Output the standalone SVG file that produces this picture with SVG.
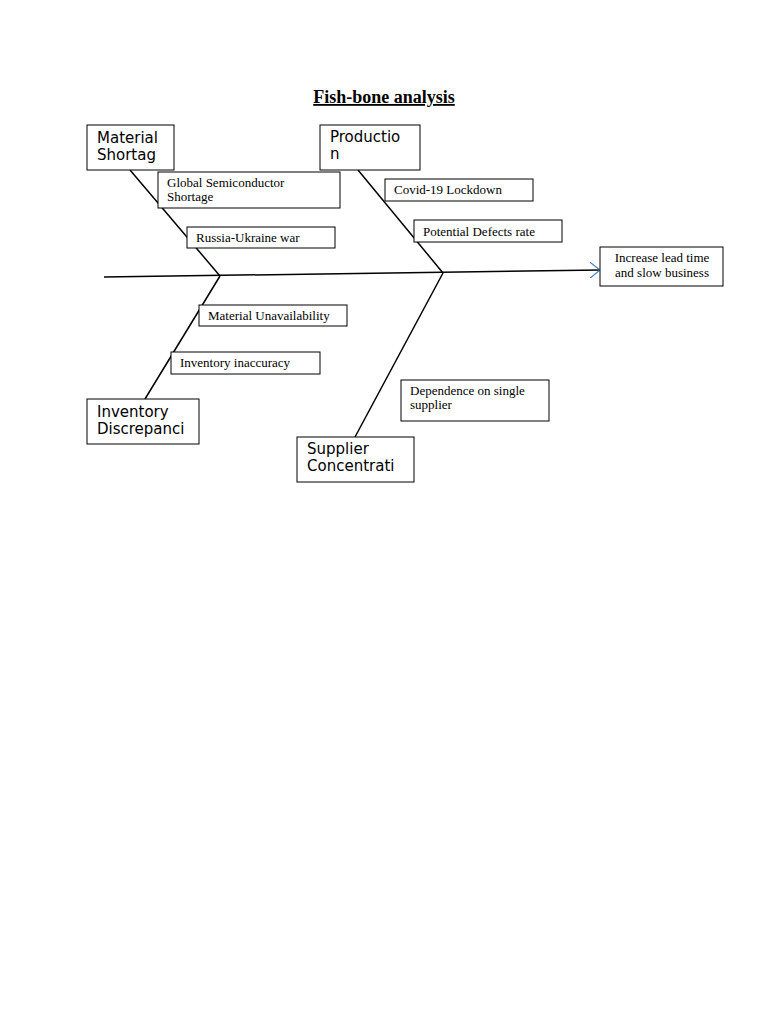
<svg xmlns="http://www.w3.org/2000/svg" width="768" height="1024" viewBox="0 0 768 1024">
<style>
.box{fill:#fff;stroke:#000;stroke-width:1}
.cat{font-family:"DejaVu Sans",sans-serif;font-size:15px;fill:#000}
.cause{font-family:"Liberation Serif",serif;font-size:13px;fill:#000}
.bone{stroke:#000;stroke-width:1.5;fill:none}
</style>
<defs>
<marker id="arr" viewBox="0 0 10 16" refX="10" refY="8" markerWidth="10" markerHeight="16" markerUnits="userSpaceOnUse" orient="auto">
<path d="M0,0 L10,8 L0,16" fill="none" stroke="#4a7ebb" stroke-width="1.2"/>
</marker>
</defs>
<rect width="768" height="1024" fill="#fff"/>
<text x="384" y="103" text-anchor="middle" font-family="Liberation Serif,serif" font-size="18" font-weight="bold" text-decoration="underline">Fish-bone analysis</text>
<g id="connectors">
<line class="bone" x1="104" y1="277" x2="600" y2="270" marker-end="url(#arr)"/>
<line class="bone" x1="130" y1="170" x2="220" y2="276"/>
<line class="bone" x1="220" y1="276" x2="145" y2="399"/>
<line class="bone" x1="358" y1="170" x2="443" y2="273"/>
<line class="bone" x1="443" y1="273" x2="355" y2="437"/>
</g>
<g id="material-shortage">
<rect class="box" x="87" y="125" width="87" height="45"/>
<text class="cat" x="97" y="143">Material</text>
<text class="cat" x="97" y="160">Shortag</text>
</g>
<g id="production">
<rect class="box" x="320" y="125" width="100" height="45"/>
<text class="cat" x="330" y="142">Productio</text>
<text class="cat" x="330" y="159">n</text>
</g>
<g id="global-semiconductor">
<rect class="box" x="158" y="172" width="182" height="36"/>
<text class="cause" x="167" y="187">Global Semiconductor</text>
<text class="cause" x="167" y="201">Shortage</text>
</g>
<g id="russia-ukraine">
<rect class="box" x="187" y="227" width="148" height="21"/>
<text class="cause" x="196" y="242">Russia-Ukraine war</text>
</g>
<g id="covid">
<rect class="box" x="385" y="179" width="148" height="22"/>
<text class="cause" x="394" y="194">Covid-19 Lockdown</text>
</g>
<g id="defects">
<rect class="box" x="414" y="220" width="148" height="22"/>
<text class="cause" x="423" y="236">Potential Defects rate</text>
</g>
<g id="effect">
<rect class="box" x="600" y="247" width="123" height="39"/>
<text class="cause" x="662" y="262" text-anchor="middle">Increase lead time</text>
<text class="cause" x="662" y="277" text-anchor="middle">and slow business</text>
</g>
<g id="material-unavailability">
<rect class="box" x="199" y="305" width="148" height="21"/>
<text class="cause" x="208" y="320">Material Unavailability</text>
</g>
<g id="inventory-inaccuracy">
<rect class="box" x="171" y="352" width="149" height="22"/>
<text class="cause" x="180" y="367">Inventory inaccuracy</text>
</g>
<g id="inventory-discrepancies">
<rect class="box" x="87" y="399" width="112" height="45"/>
<text class="cat" x="97" y="417">Inventory</text>
<text class="cat" x="97" y="434">Discrepanci</text>
</g>
<g id="single-supplier">
<rect class="box" x="401" y="380" width="148" height="41"/>
<text class="cause" x="410" y="395">Dependence on single</text>
<text class="cause" x="410" y="409">supplier</text>
</g>
<g id="supplier-concentration">
<rect class="box" x="297" y="437" width="117" height="45"/>
<text class="cat" x="307" y="454">Supplier</text>
<text class="cat" x="307" y="471">Concentrati</text>
</g>
</svg>
